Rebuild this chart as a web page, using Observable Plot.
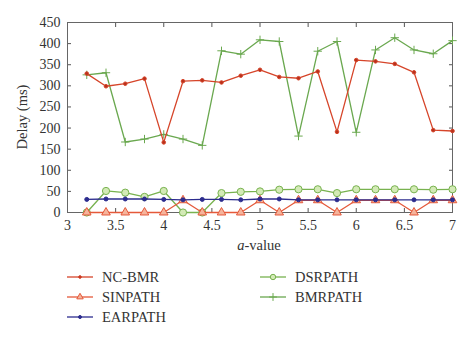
<!DOCTYPE html>
<html>
<head>
<meta charset="utf-8">
<script src="https://cdn.jsdelivr.net/npm/d3@7"></script>
<script src="https://cdn.jsdelivr.net/npm/@observablehq/plot@0.6"></script>
<style>
  html, body { margin: 0; padding: 0; background: #fff; }
  #chart { width: 474px; height: 339px; position: relative; overflow: hidden; font-family: "Liberation Serif", "DejaVu Serif", serif; color: #333; }
  #legend { position: absolute; left: 0; top: 255px; width: 474px; height: 84px; }
  .item { position: absolute; display: flex; align-items: center; font-size: 14.5px; color: #333; }
  .item svg { margin-right: 9px; }
</style>
</head>
<body>
<div id="chart"><div id="legend"></div></div>
<script>
const aValues = [3.2, 3.4, 3.6, 3.8, 4.0, 4.2, 4.4, 4.6, 4.8, 5.0, 5.2, 5.4, 5.6, 5.8, 6.0, 6.2, 6.4, 6.6, 6.8, 7.0];
const ncbmr   = [329, 299, 305, 317, 166, 311, 313, 308, 324, 338, 321, 318, 334, 191, 361, 358, 352, 332, 195, 193];
const sinpath = [0, 0, 0, 0, 0, 29, 0, 0, 0, 29, 0, 29, 29, 0, 29, 29, 29, 0, 29, 29];
const earpath = [31, 32, 32, 32, 31, 30, 31, 31, 30, 32, 32, 30, 30, 30, 30, 30, 30, 30, 30, 30];
const dsrpath = [0, 51, 47, 37, 51, 0, 0, 46, 49, 50, 54, 55, 55, 46, 55, 55, 55, 55, 54, 55];
const bmrpath = [326, 331, 167, 174, 185, 174, 159, 383, 375, 409, 405, 181, 382, 405, 190, 385, 414, 385, 376, 407];
const seriesNames = ["NC-BMR", "SINPATH", "EARPATH", "DSRPATH", "BMRPATH"];
const xTicks = [3, 3.5, 4, 4.5, 5, 5.5, 6, 6.5, 7];
const yTicks = [0, 50, 100, 150, 200, 250, 300, 350, 400, 450];

const styles = {
  "NC-BMR":  {stroke: "#d6452a", symbol: "circle", r: 1.8, fill: "#b8301c", sw: 1.3},
  "SINPATH": {stroke: "#e5593a", symbol: "triangle", r: 3.2, fill: "#f5b49c", sw: 1.3},
  "EARPATH": {stroke: "#2c2c8e", symbol: "circle", r: 2, fill: "#2c2c8e", sw: 1.3},
  "DSRPATH": {stroke: "#78b24f", symbol: "circle", r: 3.6, fill: "#d3eab6", sw: 1.3},
  "BMRPATH": {stroke: "#6aa84f", symbol: "plus", r: 2.8, fill: "none", sw: 1.3}
};
const values = {"NC-BMR": ncbmr, "SINPATH": sinpath, "EARPATH": earpath, "DSRPATH": dsrpath, "BMRPATH": bmrpath};
const data = seriesNames.map(name => aValues.map((a, i) => ({a, v: values[name][i], name})));
const drawOrder = ["BMRPATH", "NC-BMR", "DSRPATH", "SINPATH", "EARPATH"];

const marks = [];
for (const name of drawOrder) {
  const s = styles[name];
  const d = data[seriesNames.indexOf(name)];
  marks.push(Plot.line(d, {x: "a", y: "v", stroke: s.stroke, strokeWidth: s.sw}));
  if (s.symbol === "plus") {
    marks.push(Plot.dot(d, {x: "a", y: "v", symbol: "plus", r: s.r, stroke: s.stroke, strokeWidth: 1}));
  } else {
    marks.push(Plot.dot(d, {x: "a", y: "v", symbol: s.symbol, r: s.r, fill: s.fill, stroke: s.stroke, strokeWidth: 1}));
  }
}

const plot = Plot.plot({
  width: 474,
  height: 255,
  marginLeft: 67,
  marginRight: 22,
  marginTop: 22,
  marginBottom: 43,
  style: {fontFamily: "'Liberation Serif', 'DejaVu Serif', serif", fontSize: "14px", color: "#333", background: "#fff"},
  x: {domain: [3, 7]},
  y: {domain: [0, 450]},
  marks: [
    Plot.axisX({ticks: xTicks, tickSize: 0, tickPadding: 8, label: null, tickFormat: d => String(d), fontSize: 14}),
    Plot.axisX({ticks: xTicks, anchor: "bottom", tickSize: -4, tickFormat: () => "", label: null, stroke: "#555"}),
    Plot.axisX({ticks: xTicks, anchor: "top", tickSize: -4, tickFormat: () => "", label: null, stroke: "#555"}),
    Plot.axisY({ticks: yTicks, tickSize: 0, tickPadding: 7, label: null, tickFormat: d => String(d), fontSize: 14}),
    Plot.axisY({ticks: yTicks, anchor: "left", tickSize: -4, tickFormat: () => "", label: null, stroke: "#555"}),
    Plot.axisY({ticks: yTicks, anchor: "right", tickSize: -4, tickFormat: () => "", label: null, stroke: "#555"}),
    Plot.frame({stroke: "#666", strokeWidth: 1}),
    ...marks
  ]
});

const svg = d3.select(plot);
const t = svg.append("text")
  .attr("x", 259).attr("y", 250)
  .attr("text-anchor", "middle")
  .attr("font-size", 14.5).attr("fill", "#333");
t.append("tspan").attr("font-style", "italic").text("a");
t.append("tspan").text("-value");
svg.append("text")
  .attr("transform", "translate(27,117) rotate(-90)")
  .attr("text-anchor", "middle")
  .attr("font-size", 14.5).attr("fill", "#333")
  .text("Delay (ms)");

document.getElementById("chart").prepend(plot);

// legend
const legendPos = {
  "NC-BMR":  [67, 277],
  "SINPATH": [67, 297],
  "EARPATH": [67, 317],
  "DSRPATH": [260, 277],
  "BMRPATH": [260, 297]
};
const legend = d3.select("#legend");
for (const name of seriesNames) {
  const s = styles[name];
  const [lx, ly] = legendPos[name];
  const item = legend.append("div").attr("class", "item")
    .style("left", lx + "px").style("top", (ly - 255 - 10) + "px").style("height", "20px");
  const sw = item.append("svg").attr("width", 26).attr("height", 12);
  sw.append("line").attr("x1", 0).attr("x2", 26).attr("y1", 6).attr("y2", 6)
    .attr("stroke", s.stroke).attr("stroke-width", 1.3);
  const sym = {circle: d3.symbolCircle, triangle: d3.symbolTriangle, plus: d3.symbolPlus}[s.symbol];
  const size = s.symbol === "circle" ? Math.PI * (s.r * 0.75) ** 2 : (s.symbol === "triangle" ? 18 : 22);
  sw.append("path").attr("transform", "translate(13,6)")
    .attr("d", d3.symbol(sym, size)())
    .attr("fill", s.fill).attr("stroke", s.stroke).attr("stroke-width", 1);
  item.append("span").text(name);
}
</script>
</body>
</html>
